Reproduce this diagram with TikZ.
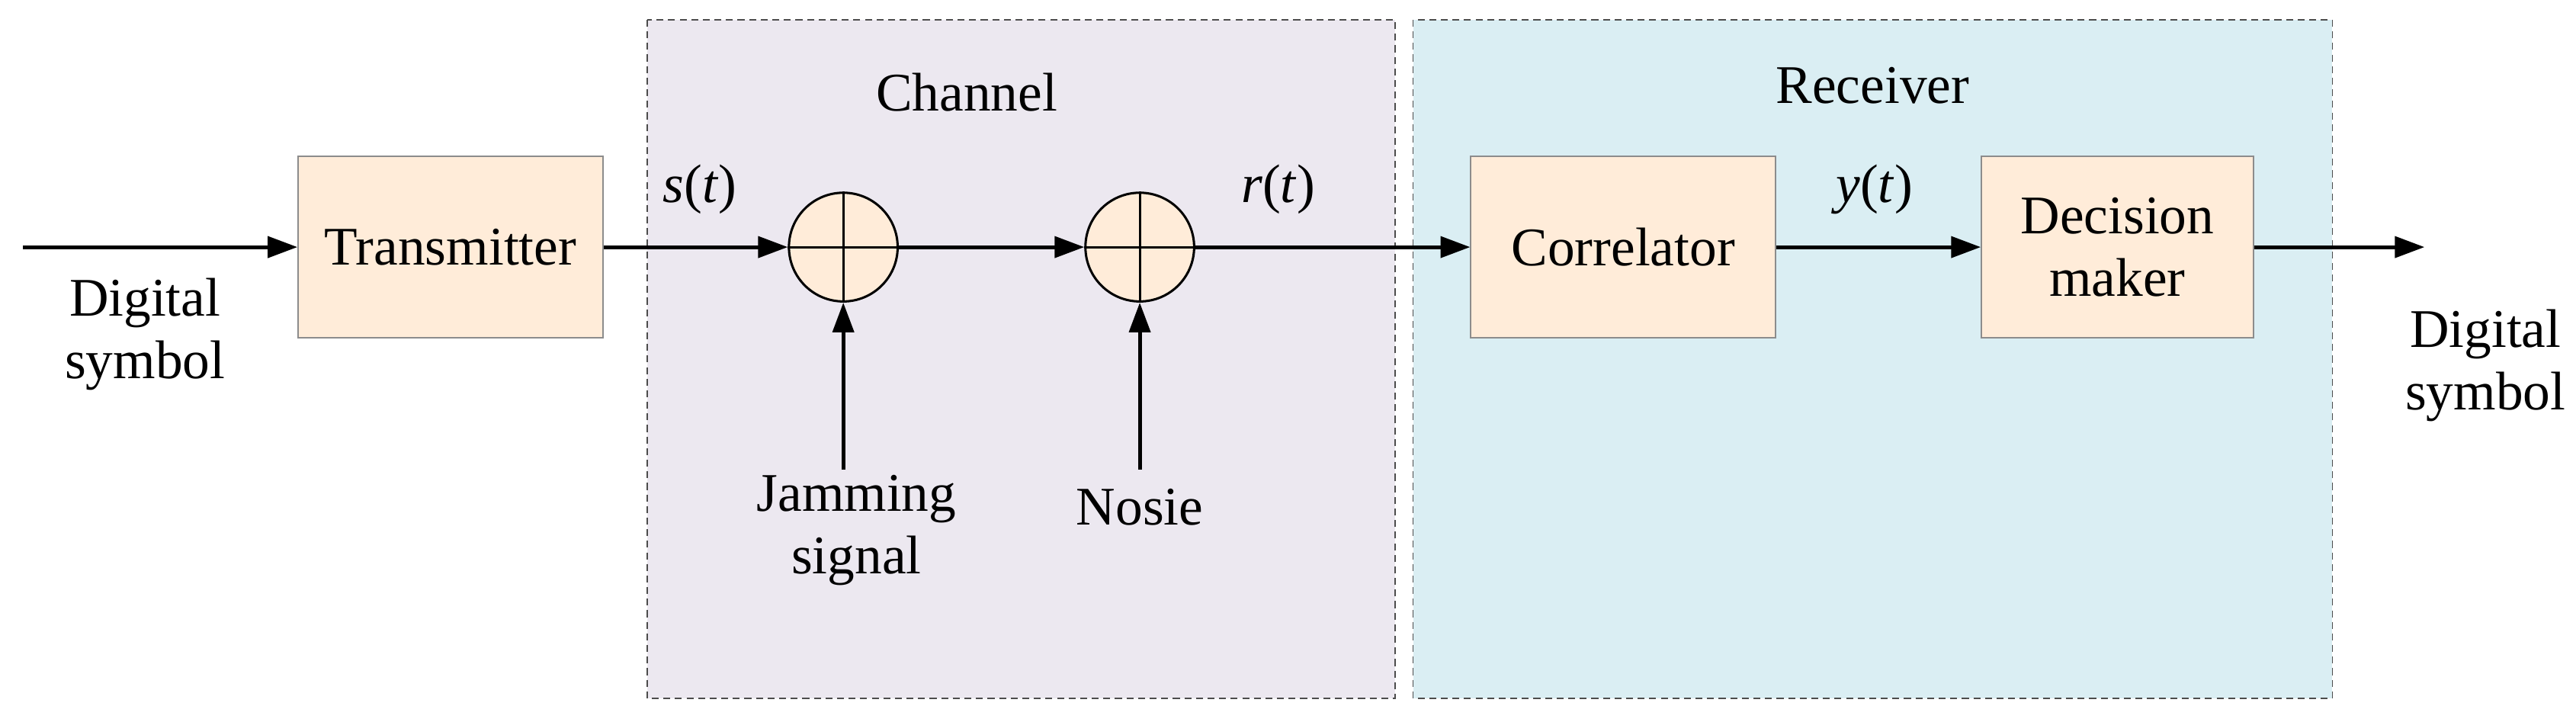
\documentclass[tikz,border=0pt]{standalone}
\usepackage{fontspec}
\setmainfont{Liberation Serif}
\usetikzlibrary{arrows.meta}
\begin{document}
\begin{tikzpicture}[x=0.25mm,y=-0.25mm,
  every node/.style={font=\fontsize{23.5}{27}\selectfont},
  region/.style={draw=black!70,densely dashed,line width=0.5pt},
  blk/.style={draw=black!45,fill=orange!15!white,line width=0.6pt,minimum width=46.25mm,minimum height=27.5mm,align=center,inner sep=0pt},
  sum/.style={draw=black,fill=orange!15!white,circle,minimum size=16.5mm,inner sep=0pt,line width=1pt},
  arr/.style={line width=1.6pt,-{Triangle[length=4.5mm,width=3.2mm]}},
  txt/.style={align=center}]
\useasboundingbox (0,0) rectangle (1564,438);
\fill[white] (0,0) rectangle (1564,438);
\draw[region,fill={rgb,255:red,236;green,232;blue,240}] (393,12) rectangle (847,424);
\draw[region,fill={rgb,255:red,218;green,238;blue,243}] (858,12) rectangle (1416,424);
\node (tx) [blk] at (273.5,150) {Transmitter};
\node (s1) [sum] at (512,150) {};
\node (s2) [sum] at (692,150) {};
\draw[line width=1pt] (s1.north)--(s1.south) (s1.west)--(s1.east);
\draw[line width=1pt] (s2.north)--(s2.south) (s2.west)--(s2.east);
\node (cor) [blk] at (985.5,150) {Correlator};
\node (dec) [blk,minimum width=41.25mm] at (1285.5,150) {Decision\\maker};
\coordinate (in) at (14,150);
\coordinate (out) at (1472,150);
\coordinate (jam) at (512,285);
\coordinate (noi) at (692,285);
\draw[arr] (in) -- (tx);
\draw[arr] (tx) -- (s1);
\draw[arr] (s1) -- (s2);
\draw[arr] (s2) -- (cor);
\draw[arr] (cor) -- (dec);
\draw[arr] (dec) -- (out);
\draw[arr] (jam) -- (s1);
\draw[arr] (noi) -- (s2);
\node (l1) [txt] at (88,203) {Digital\\symbol};
\node (l2) [txt] at (1509,222) {Digital\\symbol};
\node (l3) at (425,115) {\textit{s}(\textit{t})};
\node (l4) at (776,115) {\textit{r}(\textit{t})};
\node (l5) at (1138,115) {\textit{y}(\textit{t})};
\node (l6) at (587,56) {Channel};
\node (l7) at (1137,52) {Receiver};
\node (l8) [txt] at (520,322) {Jamming\\signal};
\node (l9) at (692,308) {Nosie};
\end{tikzpicture}
\end{document}
